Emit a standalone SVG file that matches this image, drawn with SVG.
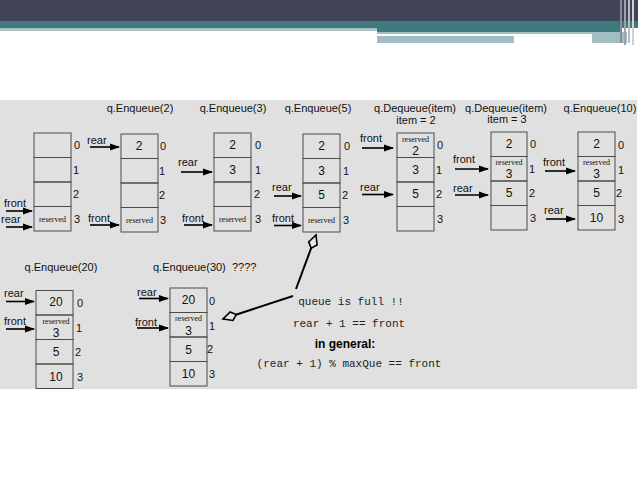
<svg xmlns="http://www.w3.org/2000/svg" width="638" height="478" viewBox="0 0 638 478">
<style>
.t{font-family:"Liberation Sans",Arial,sans-serif;font-size:11px;fill:#111}
.v{font-family:"Liberation Sans",Arial,sans-serif;font-size:12px;fill:#111;text-anchor:middle}
.r{font-family:"Liberation Serif","Times New Roman",serif;font-size:8px;fill:#111;text-anchor:middle}
.ti{font-family:"Liberation Sans",Arial,sans-serif;font-size:11px;fill:#111;text-anchor:middle}
.m{font-family:"Liberation Mono","Courier New",monospace;font-size:11px;fill:#222;text-anchor:middle}
.b{font-family:"Liberation Sans",Arial,sans-serif;font-size:12px;font-weight:bold;fill:#000;text-anchor:middle}
.cell{fill:none;stroke:#4a4a4a;stroke-width:1}
.p{stroke:#000;stroke-width:1.6;fill:none;marker-end:url(#ah)}
.ann{stroke:#000;stroke-width:2;fill:none;marker-end:url(#hk)}
</style>
<defs>
<marker id="ah" markerUnits="userSpaceOnUse" markerWidth="10" markerHeight="7" refX="9" refY="3.5" orient="auto" overflow="visible">
<path d="M0,0 L10,3.5 L0,7 Z" fill="#000"/>
</marker>
<marker id="hk" markerUnits="userSpaceOnUse" markerWidth="16" markerHeight="12" refX="0" refY="0" orient="auto" overflow="visible">
<path d="M0,0 L-9,-4.5 L-14,0 L-9,4.5 Z" fill="#e6e6e6" stroke="#000" stroke-width="1.6" stroke-linejoin="miter"/>
</marker>
</defs>
<rect width="638" height="478" fill="#fff"/>
<g id="header">
<rect x="0" y="0" width="638" height="21" fill="#414356"/>
<rect x="0" y="21" width="638" height="7" fill="#3f7a7f"/>
<rect x="0" y="28" width="377" height="3" fill="#a9c2c4"/>
<rect x="377" y="28" width="243" height="4" fill="#3f7a7f"/>
<rect x="377" y="32" width="250" height="11" fill="#a3bec0"/>
<rect x="377" y="34" width="215" height="2" fill="#fff"/>
<rect x="514" y="36" width="78" height="7" fill="#fff"/>
<rect x="620" y="0" width="2" height="43" fill="#8a8d99"/>
<rect x="624" y="0" width="2" height="45" fill="#9ea3ad"/>
<rect x="628" y="0" width="2" height="43" fill="#b6bcc2"/>
<rect x="632" y="0" width="2" height="45" fill="#c9d3d6"/>
</g>
<rect id="panel" x="0" y="100" width="637" height="289" fill="#e0e0e0"/>
<g id="titles">
<text class="ti" x="140" y="112">q.Enqueue(2)</text>
<text class="ti" x="233" y="112">q.Enqueue(3)</text>
<text class="ti" x="318" y="112">q.Enqueue(5)</text>
<text class="ti" x="415" y="112">q.Dequeue(item)</text>
<text class="ti" x="416" y="124">item = 2</text>
<text class="ti" x="506" y="112">q.Dequeue(item)</text>
<text class="ti" x="507" y="123">item = 3</text>
<text class="ti" x="600" y="112">q.Enqueue(10)</text>
<text class="ti" x="61" y="271">q.Enqueue(20)</text>
<text class="t" x="153" y="271">q.Enqueue(30)</text>
<text class="t" x="232" y="271">????</text>
</g>
<g id="q1">
<rect class="cell" x="34" y="133" width="37" height="24.5"/><rect class="cell" x="34" y="157.5" width="37" height="24.5"/><rect class="cell" x="34" y="182" width="37" height="24.5"/><rect class="cell" x="34" y="206.5" width="37" height="24.5"/>
<text class="r" x="52.5" y="221.5">reserved</text>
<text class="t" x="74" y="149">0</text><text class="t" x="73" y="174">1</text><text class="t" x="73" y="198">2</text><text class="t" x="74" y="223">3</text>
</g>
<g id="q2">
<rect class="cell" x="121" y="134" width="37" height="24.5"/><rect class="cell" x="121" y="158.5" width="37" height="24.5"/><rect class="cell" x="121" y="183" width="37" height="24.5"/><rect class="cell" x="121" y="207.5" width="37" height="24.5"/>
<text class="v" x="139" y="150">2</text>
<text class="r" x="139.5" y="222.5">reserved</text>
<text class="t" x="160" y="150">0</text><text class="t" x="159" y="175">1</text><text class="t" x="159" y="199">2</text><text class="t" x="160" y="224">3</text>
</g>
<g id="q3">
<rect class="cell" x="214" y="133" width="37" height="24.5"/><rect class="cell" x="214" y="157.5" width="37" height="24.5"/><rect class="cell" x="214" y="182" width="37" height="24.5"/><rect class="cell" x="214" y="206.5" width="37" height="24.5"/>
<text class="v" x="232.5" y="149">2</text><text class="v" x="232.5" y="174">3</text>
<text class="r" x="232.5" y="221.5">reserved</text>
<text class="t" x="255" y="149">0</text><text class="t" x="255" y="174">1</text><text class="t" x="254" y="198">2</text><text class="t" x="255" y="223">3</text>
</g>
<g id="q4">
<rect class="cell" x="303" y="134" width="37" height="24.5"/><rect class="cell" x="303" y="158.5" width="37" height="24.5"/><rect class="cell" x="303" y="183" width="37" height="24.5"/><rect class="cell" x="303" y="207.5" width="37" height="24.5"/>
<text class="v" x="321.5" y="150">2</text><text class="v" x="321.5" y="175">3</text><text class="v" x="321.5" y="199">5</text>
<text class="r" x="321.5" y="222.5">reserved</text>
<text class="t" x="344" y="150">0</text><text class="t" x="343" y="175">1</text><text class="t" x="342" y="199">2</text><text class="t" x="343" y="224">3</text>
</g>
<g id="q5">
<rect class="cell" x="397" y="133" width="37" height="24.5"/><rect class="cell" x="397" y="157.5" width="37" height="24.5"/><rect class="cell" x="397" y="182" width="37" height="24.5"/><rect class="cell" x="397" y="206.5" width="37" height="24.5"/>
<text class="r" x="415.5" y="141.5">reserved</text><text class="v" x="415.5" y="154.5">2</text>
<text class="v" x="415.5" y="174">3</text><text class="v" x="415.5" y="198">5</text>
<text class="t" x="437" y="149">0</text><text class="t" x="436" y="174">1</text><text class="t" x="436" y="198">2</text><text class="t" x="437" y="223">3</text>
</g>
<g id="q6">
<rect class="cell" x="491" y="132" width="36" height="24.5"/><rect class="cell" x="491" y="156.5" width="36" height="24.5"/><rect class="cell" x="491" y="181" width="36" height="24.5"/><rect class="cell" x="491" y="205.5" width="36" height="24.5"/>
<text class="v" x="509" y="148">2</text>
<text class="r" x="509" y="165">reserved</text><text class="v" x="509" y="178">3</text>
<text class="v" x="509" y="197">5</text>
<text class="t" x="530" y="148">0</text><text class="t" x="529" y="173">1</text><text class="t" x="529" y="197">2</text><text class="t" x="530" y="222">3</text>
</g>
<g id="q7">
<rect class="cell" x="578" y="132" width="37" height="24.5"/><rect class="cell" x="578" y="156.5" width="37" height="24.5"/><rect class="cell" x="578" y="181" width="37" height="24.5"/><rect class="cell" x="578" y="205.5" width="37" height="24.5"/>
<text class="v" x="596.5" y="148">2</text>
<text class="r" x="596.5" y="165">reserved</text><text class="v" x="596.5" y="178">3</text>
<text class="v" x="596.5" y="197">5</text><text class="v" x="596.5" y="222">10</text>
<text class="t" x="618" y="149">0</text><text class="t" x="618" y="174">1</text><text class="t" x="616" y="197">2</text><text class="t" x="618" y="223">3</text>
</g>
<g id="q8">
<rect class="cell" x="36" y="290.5" width="37" height="24.5"/><rect class="cell" x="36" y="315" width="37" height="24.5"/><rect class="cell" x="36" y="339.5" width="37" height="24.5"/><rect class="cell" x="36" y="364" width="37" height="24.5"/>
<text class="v" x="56" y="306">20</text>
<text class="r" x="56" y="323.5">reserved</text><text class="v" x="56" y="337">3</text>
<text class="v" x="56" y="356">5</text><text class="v" x="56" y="381">10</text>
<text class="t" x="77" y="307">0</text><text class="t" x="76" y="332">1</text><text class="t" x="75" y="356">2</text><text class="t" x="77" y="381">3</text>
</g>
<g id="q9">
<rect class="cell" x="170" y="288" width="37" height="24.5"/><rect class="cell" x="170" y="312.5" width="37" height="24.5"/><rect class="cell" x="170" y="337" width="37" height="24.5"/><rect class="cell" x="170" y="361.5" width="37" height="24.5"/>
<text class="v" x="188.5" y="304">20</text>
<text class="r" x="188.5" y="321">reserved</text><text class="v" x="188.5" y="334.5">3</text>
<text class="v" x="188.5" y="354">5</text><text class="v" x="188.5" y="378">10</text>
<text class="t" x="209" y="305">0</text><text class="t" x="209" y="330">1</text><text class="t" x="207" y="353">2</text><text class="t" x="209" y="378">3</text>
</g>
<g id="notes">
<text class="m" x="351" y="305">queue is full !!</text>
<text class="m" x="349" y="327">rear + 1 == front</text>
<text class="b" x="345" y="348">in general:</text>
<text class="m" x="349" y="367">(rear + 1) % maxQue == front</text>
</g>
<g id="labels">
<text class="t" x="4" y="207">front</text>
<text class="t" x="1" y="223">rear</text>
<text class="t" x="87" y="144">rear</text>
<text class="t" x="88" y="222">front</text>
<text class="t" x="178" y="166">rear</text>
<text class="t" x="182" y="222">front</text>
<text class="t" x="272" y="191">rear</text>
<text class="t" x="272" y="222">front</text>
<text class="t" x="360" y="142">front</text>
<text class="t" x="360" y="191">rear</text>
<text class="t" x="453" y="163">front</text>
<text class="t" x="453" y="192">rear</text>
<text class="t" x="543" y="166">front</text>
<text class="t" x="544" y="214">rear</text>
<text class="t" x="4" y="297">rear</text>
<text class="t" x="4" y="325">front</text>
<text class="t" x="137" y="296">rear</text>
<text class="t" x="135" y="326">front</text>
</g>
<g id="connectors">
<line class="p" x1="6" y1="211" x2="32" y2="211"/>
<line class="p" x1="6" y1="227" x2="32" y2="227"/>
<line class="p" x1="90" y1="147" x2="119" y2="147"/>
<line class="p" x1="90" y1="225" x2="119" y2="225"/>
<line class="p" x1="181" y1="172" x2="212" y2="172"/>
<line class="p" x1="184" y1="225" x2="212" y2="225"/>
<line class="p" x1="274" y1="196" x2="301" y2="196"/>
<line class="p" x1="274" y1="225.5" x2="301" y2="225.5"/>
<line class="p" x1="362" y1="148" x2="393" y2="148"/>
<line class="p" x1="362" y1="194.5" x2="393" y2="194.5"/>
<line class="p" x1="455" y1="169" x2="488" y2="169"/>
<line class="p" x1="455" y1="195" x2="488" y2="195"/>
<line class="p" x1="545" y1="171" x2="575" y2="171"/>
<line class="p" x1="546" y1="219" x2="575" y2="219"/>
<line class="p" x1="6" y1="301.5" x2="34" y2="301.5"/>
<line class="p" x1="6" y1="329" x2="34" y2="329"/>
<line class="p" x1="139" y1="298.5" x2="168" y2="298.5"/>
<line class="p" x1="137" y1="328" x2="168" y2="328"/>
<line class="ann" x1="296" y1="289" x2="316" y2="235"/>
<line class="ann" x1="293" y1="296" x2="223" y2="319"/>
</g>
</svg>
